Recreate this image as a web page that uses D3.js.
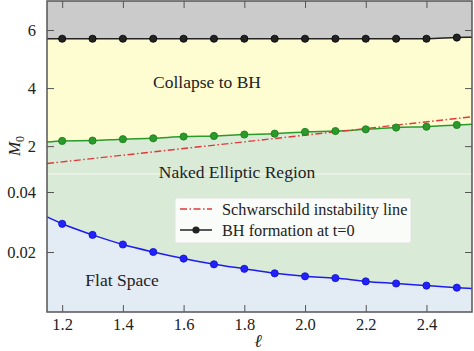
<!DOCTYPE html>
<meta charset="utf-8">
<style>
body { margin: 0; background: #fff; }
svg text { font-family: "Liberation Serif", "DejaVu Serif", serif; fill: #222; }
.tick-label { font-size: 16.5px; }
.region { font-size: 17.5px; }
.legend text { font-size: 16.3px; }
</style>
<svg class="chart" width="474" height="351"></svg>
<script src="https://d3js.org/d3.v7.min.js"></script>
<script>

// sampled ell values
var ell = [1.2, 1.3, 1.4, 1.5, 1.6, 1.7, 1.8, 1.9, 2.0, 2.1, 2.2, 2.3, 2.4, 2.5];
var bhFormation = [5.70, 5.70, 5.70, 5.70, 5.70, 5.70, 5.70, 5.70, 5.70, 5.70, 5.70, 5.70, 5.70, 5.74];
var nakedEdge = [2.18, 2.19, 2.24, 2.27, 2.33, 2.35, 2.40, 2.43, 2.49, 2.52, 2.58, 2.64, 2.67, 2.73];
var flatEdge = [0.0294, 0.0257, 0.0225, 0.0200, 0.0178, 0.0159, 0.0144, 0.0129, 0.0119, 0.0113, 0.0102, 0.0095, 0.0088, 0.0081];

// fitted curves, drawn edge to edge
var fitEll = [1.15].concat(ell, [2.55]);
var bhFit = [5.70].concat(bhFormation, [5.75]);
var nakedFit = [2.14].concat(nakedEdge, [2.75]);
var flatFit = [0.0317].concat(flatEdge, [0.0078]);

var schwEll = [1.15, 2.55];
var schwVals = [1.40, 3.01];

var xTicks = [1.2, 1.4, 1.6, 1.8, 2.0, 2.2, 2.4];
var topTicks = [2, 4, 6];
var botTicks = [0.02, 0.04];

var plotL = 47, plotR = 472, plotT = 1, plotB = 312, split = 174;

var svg = d3.select(".chart");

var x = d3.scaleLinear().domain([1.15, 2.55]).range([plotL, plotR]);
var yTop = d3.scaleLinear().domain([1.04, 7]).range([split, plotT]);
var yBot = d3.scaleLinear().domain([0, 0.046]).range([plotB, split]);

var pairs = function (vals) { return fitEll.map(function (l, i) { return [l, vals[i]]; }); };
var px = function (d) { return x(d[0]); };

// filled regions
svg.append("path")
    .datum(pairs(bhFit))
    .attr("fill", "#cbcbcb")
    .attr("d", d3.area().x(px).y0(plotT).y1(function (d) { return yTop(d[1]); }));

svg.append("path")
    .datum(fitEll.map(function (l, i) { return [l, bhFit[i], nakedFit[i]]; }))
    .attr("fill", "#fefdd2")
    .attr("d", d3.area().x(px)
        .y0(function (d) { return yTop(d[1]); })
        .y1(function (d) { return yTop(d[2]); }));

svg.append("path")
    .datum(pairs(nakedFit))
    .attr("fill", "#d9ebd7")
    .attr("d", d3.area().x(px).y0(split).y1(function (d) { return yTop(d[1]); }));

svg.append("path")
    .datum(pairs(flatFit))
    .attr("fill", "#d9ebd7")
    .attr("d", d3.area().x(px).y0(split).y1(function (d) { return yBot(d[1]); }));

svg.append("path")
    .datum(pairs(flatFit))
    .attr("fill", "#e3ebf5")
    .attr("d", d3.area().x(px).y0(plotB).y1(function (d) { return yBot(d[1]); }));

// panel break
svg.append("line")
    .attr("x1", plotL).attr("x2", plotR)
    .attr("y1", split).attr("y2", split)
    .attr("stroke", "#f4f8f2").attr("stroke-width", 1.2);

// curves
var lineTop = d3.line().curve(d3.curveMonotoneX)
    .x(px).y(function (d) { return yTop(d[1]); });
var lineBot = d3.line().curve(d3.curveMonotoneX)
    .x(px).y(function (d) { return yBot(d[1]); });

svg.append("path").datum(pairs(bhFit))
    .attr("fill", "none").attr("stroke", "#222").attr("stroke-width", 1.5)
    .attr("d", lineTop);
svg.append("path").datum(pairs(nakedFit))
    .attr("fill", "none").attr("stroke", "#2a9a2a").attr("stroke-width", 1.5)
    .attr("d", lineTop);
svg.append("path").datum(pairs(flatFit))
    .attr("fill", "none").attr("stroke", "#1c1cf0").attr("stroke-width", 1.5)
    .attr("d", lineBot);

svg.append("path")
    .datum(schwEll.map(function (l, i) { return [l, schwVals[i]]; }))
    .attr("fill", "none").attr("stroke", "#e0393b").attr("stroke-width", 1.4)
    .attr("stroke-dasharray", "7,2.5,1.5,2.5")
    .attr("d", d3.line().x(px).y(function (d) { return yTop(d[1]); }));

// markers
function dots(vals, ys, fill, stroke) {
  svg.append("g").selectAll("circle")
    .data(ell.map(function (l, i) { return [l, vals[i]]; }))
    .enter().append("circle")
      .attr("cx", px)
      .attr("cy", function (d) { return ys(d[1]); })
      .attr("r", 3.6)
      .attr("fill", fill).attr("stroke", stroke).attr("stroke-width", 0.8);
}
dots(bhFormation, yTop, "#222", "#000");
dots(nakedEdge, yTop, "#2a9a2a", "#1a7a1a");
dots(flatEdge, yBot, "#2222ff", "#1010c0");

// region labels
svg.append("text").attr("class", "region").attr("x", 207).attr("y", 88)
    .attr("text-anchor", "middle").text("Collapse to BH");
svg.append("text").attr("class", "region").attr("x", 237).attr("y", 178)
    .attr("text-anchor", "middle").text("Naked Elliptic Region");
svg.append("text").attr("class", "region").attr("x", 122).attr("y", 286)
    .attr("text-anchor", "middle").text("Flat Space");

// legend
var legend = svg.append("g").attr("class", "legend");
legend.append("rect")
    .attr("x", 175).attr("y", 198).attr("width", 236).attr("height", 45)
    .attr("rx", 2).attr("fill", "#fff").attr("fill-opacity", 0.85)
    .attr("stroke", "#e0e0e0").attr("stroke-width", 0.8);
legend.append("line").attr("x1", 180).attr("x2", 212).attr("y1", 209).attr("y2", 209)
    .attr("stroke", "#e0393b").attr("stroke-width", 1.4).attr("stroke-dasharray", "7,2.5,1.5,2.5");
legend.append("text").attr("x", 222).attr("y", 215).text("Schwarschild instability line");
legend.append("line").attr("x1", 180).attr("x2", 212).attr("y1", 230).attr("y2", 230)
    .attr("stroke", "#222").attr("stroke-width", 1.5);
legend.append("circle").attr("cx", 196).attr("cy", 230).attr("r", 3.6).attr("fill", "#222");
legend.append("text").attr("x", 222).attr("y", 236).text("BH formation at t=0");

// axes
var tickLen = 7;
var axisColor = "#555";
var noDomain = function (g) { g.select(".domain").remove(); };

svg.append("g").attr("transform", "translate(0," + plotB + ")")
    .call(d3.axisBottom(x).tickValues(xTicks).tickFormat(d3.format(".1f")).tickSizeInner(-tickLen).tickSizeOuter(0).tickPadding(6))
    .call(noDomain);
svg.append("g").attr("transform", "translate(0," + plotT + ")")
    .call(d3.axisTop(x).tickValues(xTicks).tickFormat("").tickSizeInner(-tickLen).tickSizeOuter(0))
    .call(noDomain);

svg.append("g").attr("transform", "translate(" + plotL + ",0)")
    .call(d3.axisLeft(yTop).tickValues(topTicks).tickFormat(d3.format("d")).tickSizeInner(-tickLen).tickSizeOuter(0).tickPadding(11))
    .call(noDomain);
svg.append("g").attr("transform", "translate(" + plotL + ",0)")
    .call(d3.axisLeft(yBot).tickValues(botTicks).tickFormat(d3.format(".2f")).tickSizeInner(-tickLen).tickSizeOuter(0).tickPadding(11))
    .call(noDomain);
svg.append("g").attr("transform", "translate(" + plotR + ",0)")
    .call(d3.axisRight(yTop).tickValues(topTicks).tickFormat("").tickSizeInner(-tickLen).tickSizeOuter(0))
    .call(noDomain);
svg.append("g").attr("transform", "translate(" + plotR + ",0)")
    .call(d3.axisRight(yBot).tickValues(botTicks).tickFormat("").tickSizeInner(-tickLen).tickSizeOuter(0))
    .call(noDomain);

svg.selectAll(".tick line").attr("stroke", axisColor);
svg.selectAll(".tick text").attr("class", "tick-label").attr("font-family", null).attr("font-size", null).attr("fill", "#222");

svg.append("rect")
    .attr("x", plotL).attr("y", plotT).attr("width", plotR - plotL).attr("height", plotB - plotT)
    .attr("fill", "none").attr("stroke", axisColor).attr("stroke-width", 1.5);

// axis titles
svg.append("text").attr("x", 258).attr("y", 347).attr("text-anchor", "middle")
    .style("font-style", "italic").style("font-size", "18px").text("ℓ");
var ylab = svg.append("text")
    .attr("transform", "translate(20,146) rotate(-90)")
    .attr("text-anchor", "middle").style("font-size", "17px");
ylab.append("tspan").style("font-style", "italic").text("M");
ylab.append("tspan").attr("dy", 4).style("font-size", "12px").text("0");

</script>
